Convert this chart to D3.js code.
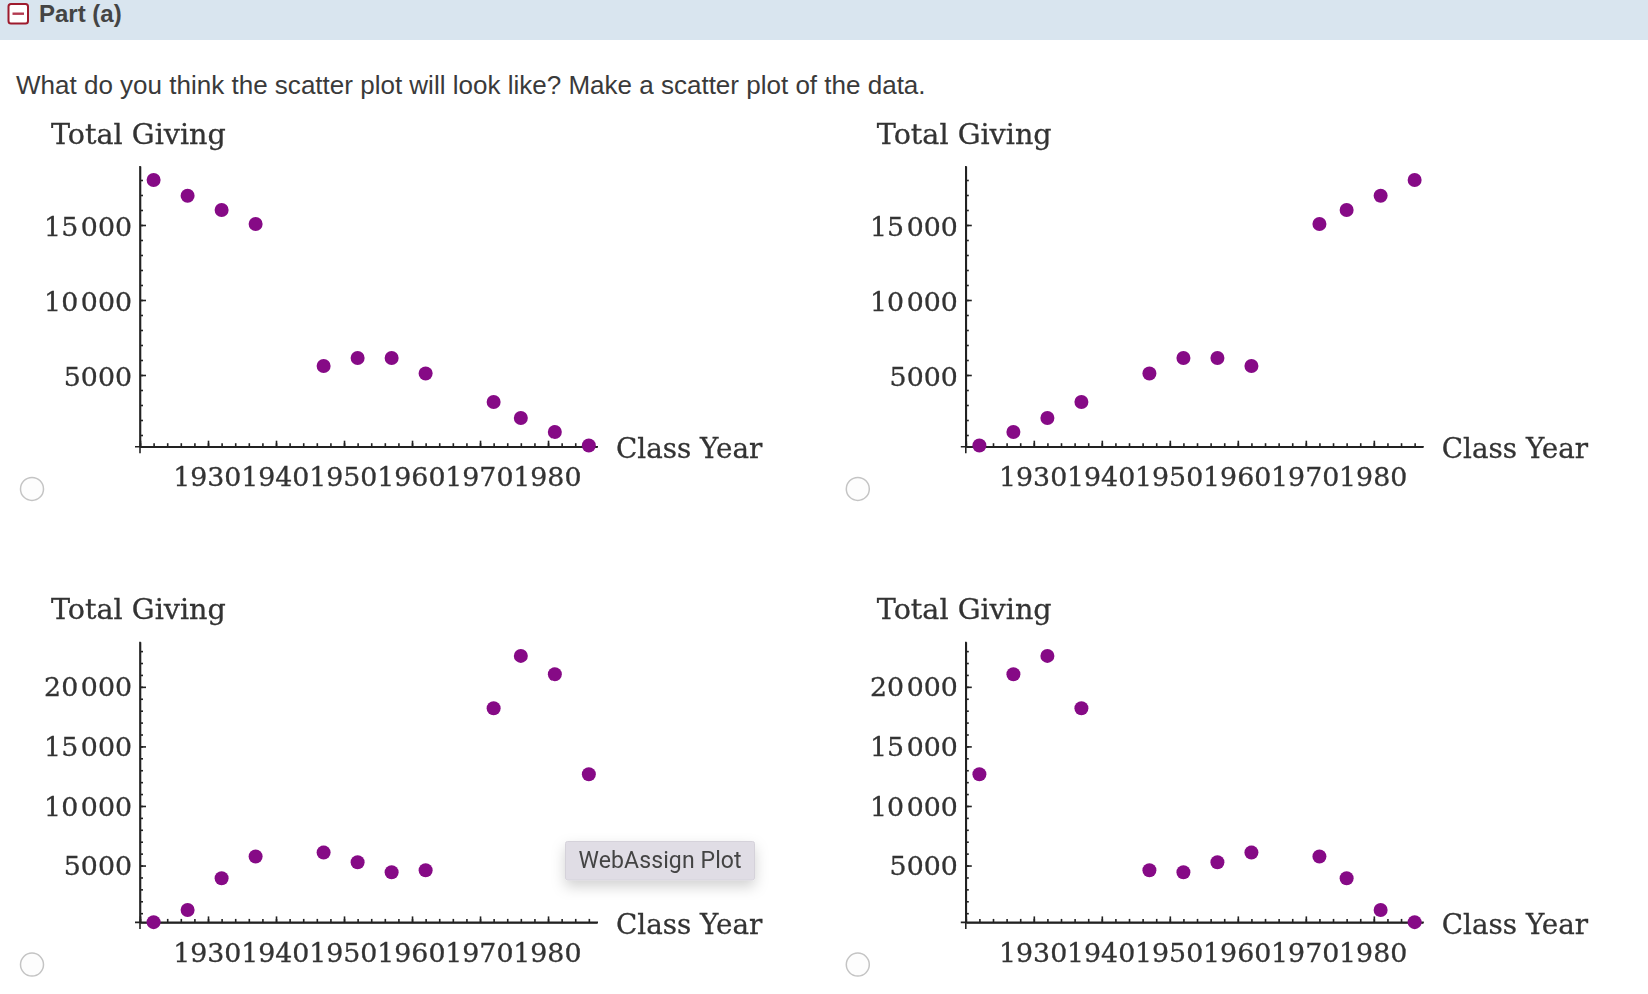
<!DOCTYPE html>
<html><head><meta charset="utf-8">
<script src="https://cdn.jsdelivr.net/npm/d3@7"></script>
<style>
html,body{margin:0;padding:0;background:#fff;overflow:hidden}
svg{display:block}
.sans{font-family:"Liberation Sans",Arial,sans-serif}
.serif{font-family:"DejaVu Serif",serif;fill:#333;stroke:#333;stroke-width:.3}
.soft{filter:blur(.45px)}
.axis path,.axis line{stroke:#222;stroke-width:1.6;shape-rendering:auto}
.axis text{font-family:"DejaVu Serif",serif;font-size:26.8px;fill:#333;stroke:#333;stroke-width:.3}
</style></head><body>
<svg id="c" width="1648" height="994"></svg>
<script>
// --- data ---
const classYears = [1922,1927,1932,1937,1947,1952,1957,1962,1972,1976,1981,1986];
const givingA = [18000,16950,16000,15070,5600,6130,6130,5100,3200,2130,1200,300];
const givingB = [300,1200,2130,3200,5100,6130,6130,5600,15070,16000,16950,18000];
const givingC = [250,1270,3930,5760,6090,5280,4440,4600,18200,22600,21060,12660];
const givingD = [12660,21060,22600,18200,4600,4440,5280,6090,5760,3930,1270,250];
const yearTicks = [1930,1940,1950,1960,1970,1980];
const yTicksTop = [5000,10000,15000];
const yTicksBottom = [5000,10000,15000,20000];
const yDomainTop = [220,18933];
const yDomainBottom = [227,23790];
const xDomain = [1920,1987.2];
const xLabelYears = d3.range(1920,1987,10);
const xMinorYears = d3.range(1920,1987,2);
const panelTitles = {y:"Total Giving", x:"Class Year"};
const question = "What do you think the scatter plot will look like? Make a scatter plot of the data.";

const svg = d3.select("#c");

// header
svg.append("rect").attr("width",1648).attr("height",40).attr("fill","#d9e5ef");
svg.append("rect").attr("x",8.5).attr("y",4).attr("width",19.5).attr("height",19.5).attr("rx",2.5)
  .attr("fill","#fff").attr("stroke","#9e1b2d").attr("stroke-width",2);
svg.append("rect").attr("x",12.5).attr("y",12.5).attr("width",11.5).attr("height",2.4).attr("fill","#b33a50");
svg.append("text").attr("class","sans").attr("x",39).attr("y",22)
  .attr("font-size",24).attr("font-weight",700).attr("fill","#444").text("Part (a)");
svg.append("text").attr("class","sans").attr("x",16).attr("y",94)
  .attr("font-size",26.02).attr("fill","#3a3a3a").text(question);

const shadow = svg.append("defs").append("filter").attr("id","sh")
  .attr("x","-20%").attr("y","-40%").attr("width","140%").attr("height","190%");
shadow.append("feDropShadow").attr("dx",0).attr("dy",6).attr("stdDeviation",7)
  .attr("flood-color","#000").attr("flood-opacity",.18);

const fmt = v => { const s=String(v); return v>=10000 ? s.slice(0,-3)+"\u200A"+s.slice(-3) : s; };

function panel(left, axisY, topY, values, domain, labels, labelShift){
  const x = d3.scaleLinear().domain(xDomain).range([left, left+457]);
  const y = d3.scaleLinear().domain(domain).range([axisY, topY]);
  const g = svg.append("g").attr("class","soft");
  const minorY = d3.range(1000, Math.floor(domain[1]/1000)*1000+1, 1000);

  // x axis: minor, major, labels
  const gx = g.append("g").attr("class","axis").attr("transform",`translate(0,${axisY})`);
  gx.call(d3.axisTop(x).tickValues(xMinorYears).tickSize(3.5).tickFormat("").tickSizeOuter(0));
  gx.append("g").call(d3.axisTop(x).tickValues(xLabelYears).tickSize(6).tickFormat("").tickSizeOuter(0));
  gx.select("g path").remove();
  const xl = g.append("g").attr("class","axis").attr("transform",`translate(-1.2,${axisY+39.5})`)
    .call(d3.axisBottom(x).tickValues(yearTicks).tickSize(0).tickPadding(0).tickFormat(d3.format("d")));
  xl.select("path").remove();
  xl.selectAll("text").attr("dy",0).attr("y",0);

  // y axis: minor, major, labels
  const gy = g.append("g").attr("class","axis").attr("transform",`translate(${left},0)`);
  gy.call(d3.axisRight(y).tickValues(minorY).tickSize(3).tickFormat("").tickSizeOuter(0));
  gy.append("g").call(d3.axisRight(y).tickValues(labels).tickSize(6).tickFormat("").tickSizeOuter(0));
  gy.select("g path").remove();
  const yl = g.append("g").attr("class","axis").attr("transform",`translate(${left},${labelShift})`)
    .call(d3.axisLeft(y).tickValues(labels).tickSize(0).tickPadding(8).tickFormat(fmt));
  yl.select("path").remove();

  // axis overshoot at the origin
  g.append("line").attr("x1",left-5).attr("x2",x.range()[1]+1).attr("y1",axisY).attr("y2",axisY)
    .attr("stroke","#222").attr("stroke-width",1.6);
  g.append("line").attr("x1",left).attr("x2",left).attr("y1",topY).attr("y2",axisY+6.5)
    .attr("stroke","#222").attr("stroke-width",1.6);

  // titles
  g.append("text").attr("class","serif").attr("x",left-89).attr("y",axisY-303.2)
    .attr("font-size",28.6).text(panelTitles.y);
  g.append("text").attr("class","serif").attr("x",left+476).attr("y",axisY+11.3)
    .attr("font-size",27.8).text(panelTitles.x);

  // points
  g.append("g").selectAll("circle").data(classYears).join("circle")
    .attr("cx",d=>x(d)).attr("cy",(d,i)=>y(values[i])).attr("r",7).attr("fill","#860a86");

  // radio button
  svg.append("circle").attr("cx",left-108).attr("cy",axisY+42.2).attr("r",11.5)
    .attr("fill","#fdfdfd").attr("stroke","#c4c4c4").attr("stroke-width",1.5);
}

panel(140, 446.7, 166, givingA, yDomainTop, yTicksTop, 1.5);
panel(965.8, 446.7, 166, givingB, yDomainTop, yTicksTop, 1.5);
panel(140, 922.4, 641.7, givingC, yDomainBottom, yTicksBottom, 0.5);
panel(965.8, 922.4, 641.7, givingD, yDomainBottom, yTicksBottom, 0.5);

// tooltip
svg.append("rect").attr("x",565.5).attr("y",841.5).attr("width",189).attr("height",38.5).attr("rx",2)
  .attr("fill","#e0dde5").attr("stroke","#d5d2da").attr("filter","url(#sh)");
svg.append("text").attr("x",578.5).attr("y",868).attr("font-family","Roboto,sans-serif")
  .attr("font-size",23).attr("letter-spacing",.12).attr("fill","#444").text("WebAssign Plot");
</script>
</body></html>
